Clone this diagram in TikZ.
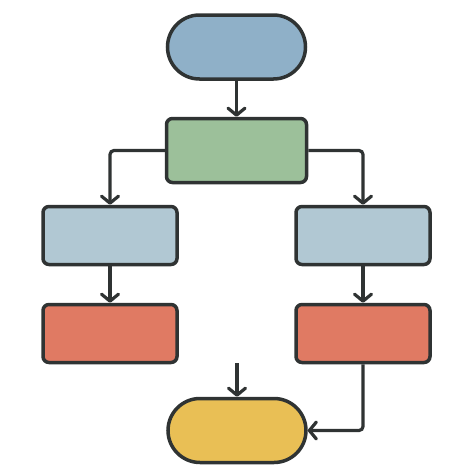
\documentclass[tikz,border=0pt]{standalone}
\usetikzlibrary{arrows.meta,shapes.misc}
\definecolor{ink}{HTML}{2F3333}
\definecolor{cTop}{HTML}{8FB0C8}
\definecolor{cGreen}{HTML}{9CC09A}
\definecolor{cBlue}{HTML}{B1C8D3}
\definecolor{cRed}{HTML}{E07A63}
\definecolor{cYellow}{HTML}{E9BF55}
\tikzset{
  box/.style={draw=ink, line width=3.5pt, rounded corners=6pt, minimum width=134pt, minimum height=58pt, inner sep=0pt},
  pill/.style={draw=ink, line width=3.5pt, rounded rectangle, minimum width=138pt, minimum height=64pt, inner sep=0pt},
  conn/.style={draw=ink, line width=3.2pt, rounded corners=4pt, -{Straight Barb[length=7pt,width=17pt,line cap=round,line join=round]}}
}
\begin{document}
\begin{tikzpicture}[x=1pt,y=-1pt]
\useasboundingbox (0,0) rectangle (474,474);
\node[pill, fill=cTop] (start) at (236.5,47) {};
\node[box, fill=cGreen, minimum width=140pt, minimum height=64pt] (dec) at (236.5,150.5) {};
\node[box, fill=cBlue] (lb) at (110,235.5) {};
\node[box, fill=cBlue] (rb) at (363,235.5) {};
\node[box, fill=cRed] (lr) at (110,333.5) {};
\node[box, fill=cRed] (rr) at (363,333.5) {};
\node[pill, fill=cYellow] (end) at (237,430.5) {};
\coordinate (free) at (237,363);
\draw[conn] (start) -- (dec);
\draw[conn] (dec.west) -| (lb.north);
\draw[conn] (dec.east) -| (rb.north);
\draw[conn] (lb) -- (lr);
\draw[conn] (rb) -- (rr);
\draw[conn] (rr.south) |- (end.east);
\draw[conn] (free) -- (end.north);
\end{tikzpicture}
\end{document}
